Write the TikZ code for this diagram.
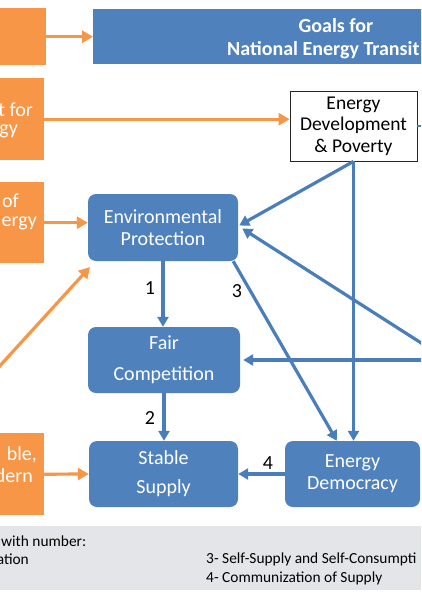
\documentclass[tikz,border=0pt]{standalone}
\usepackage{fontspec}
\setmainfont{Carlito}
\usetikzlibrary{arrows.meta}
\definecolor{obox}{HTML}{F79646}
\definecolor{bbox}{HTML}{4F81BD}
\definecolor{bline}{HTML}{4A7EBB}
\definecolor{legbg}{HTML}{E3E5E8}
\begin{document}
\begin{tikzpicture}[x=1pt,y=-1pt,
  orangebox/.style={rectangle, fill=obox, draw=none, inner sep=0pt},
  otext/.style={text=white, font=\fontsize{20}{22}\selectfont, inner sep=0pt},
  bluebox/.style={rectangle, rounded corners=8pt, fill=bbox, text=white, align=center,
    font=\fontsize{20}{22}\selectfont, inner sep=0pt},
  oarrow/.style={draw=obox, line width=3.2pt, -{Triangle[length=11pt,width=12pt]}},
  barrow/.style={draw=bline, line width=3.2pt, -{Triangle[length=10pt,width=11pt]}},
  numlab/.style={font=\fontsize{20}{22}\selectfont, inner sep=0pt},
  legtext/.style={font=\fontsize{15.4}{17}\selectfont, inner sep=0pt}]
\useasboundingbox (0,0) rectangle (421,600);
\clip (0,0) rectangle (421,600);
\fill[white] (0,0) rectangle (421,600);

% legend band
\node[fill=legbg, minimum width=421pt, minimum height=64pt, inner sep=0pt, anchor=north west] (legend) at (0,526) {};
\node[legtext, anchor=west] (lg1) at (1,541) {with number:};
\node[legtext, anchor=east] (lg2) at (29,559) {ation};
\node[legtext, anchor=west] (lg3) at (206,559) {3- Self-Supply and Self-Consumpti};
\node[legtext, anchor=west] (lg4) at (206,578) {4- Communization of Supply};

% orange boxes (cut at left edge)
\node[orangebox, minimum width=106pt, minimum height=57pt, anchor=north east] (o1) at (46,8) {};
\node[orangebox, minimum width=104pt, minimum height=82pt, anchor=north east] (o2) at (44,78) {};
\node[orangebox, minimum width=104pt, minimum height=81pt, anchor=north east] (o3) at (44,182) {};
\node[orangebox, minimum width=104pt, minimum height=82pt, anchor=north east] (o4) at (44,433) {};
\node[otext, anchor=east] (o2a) at (33,110) {t for};
\node[otext, anchor=east] (o2b) at (18,131) {gy};
\node[otext, anchor=east] (o3a) at (19,201) {of};
\node[otext, anchor=east] (o3b) at (37,223) {ergy};
\node[otext, anchor=east] (o4a) at (37,455) {ble,};
\node[otext, anchor=east] (o4b) at (33,476) {dern};

% goals box
\node[fill=bbox, minimum width=500pt, minimum height=55pt, inner sep=0pt, anchor=north west] (goals) at (93,9) {};
\node[text=white, font=\fontsize{20}{22}\selectfont\bfseries, inner sep=0pt] (g1) at (336,26) {Goals for};
\node[text=white, font=\fontsize{20}{22}\selectfont\bfseries, inner sep=0pt, anchor=west] (g2) at (227,50) {National Energy Transit};

% energy development box
\node[draw=black!85, line width=0.8pt, fill=white, minimum width=127pt, minimum height=70pt,
  align=center, font=\fontsize{19.5}{21.5}\selectfont, inner sep=0pt] (edp) at (353.5,126)
  {Energy\\Development\\\& Poverty};

% blue boxes
\node[bluebox, minimum width=150pt, minimum height=67pt] (env) at (163,227.5) {Environmental\\Protection};
\node[bluebox, minimum width=152pt, minimum height=66pt] (fair) at (164,360) {Fair\\[9pt]Competition};
\node[bluebox, minimum width=149pt, minimum height=66pt] (stable) at (163.5,474) {Stable\\[7pt]Supply};
\node[bluebox, minimum width=135pt, minimum height=66pt] (dem) at (352.5,474) {Energy\\Democracy};

% orange arrows
\draw[oarrow] (o1.east) -- (goals.west);
\draw[oarrow] (o2.east) -- (o2.east -| edp.west);
\draw[oarrow] (o3.east) -- (o3.east -| env.west);
\coordinate (dstart) at (-3,369);
\coordinate (dend) at (90,267);
\draw[oarrow] (dstart) -- (dend);
\draw[oarrow] (o4.east) -- (stable.west);

% blue arrows
\draw[barrow] (env.south) -- (env.south |- fair.north);
\draw[barrow] (fair.south) -- (fair.south |- stable.north);
\draw[barrow] ([xshift=-5pt]env.south east) -- ([xshift=52pt]dem.north west);
\draw[barrow] (dem.west) -- (stable.east);
\draw[barrow] (edp.south) -- ([yshift=2pt,xshift=1pt]env.east);
\draw[barrow] (edp.south) -- (edp.south |- dem.north);
\coordinate (r1) at (440,355);
\draw[barrow] (r1) -- ([yshift=-1pt,xshift=4pt]env.east);
\coordinate (r2) at (440,360);
\draw[barrow] (fair.east -| r2) -- ([xshift=3pt]fair.east);
\coordinate (r3) at (440,126);
\draw[draw=bline, line width=1.5pt] (edp.east) -- (r3);

% numbers
\node[numlab] (n1) at (150,288) {1};
\node[numlab] (n2) at (150,418) {2};
\node[numlab] (n3) at (237,291) {3};
\node[numlab] (n4) at (268,463) {4};
\end{tikzpicture}
\end{document}
